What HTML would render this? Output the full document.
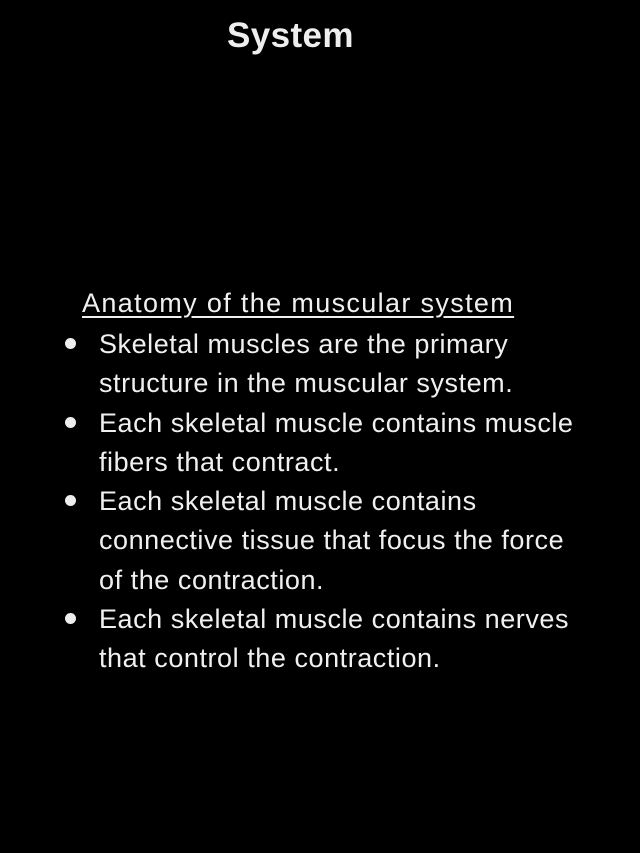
<!DOCTYPE html>
<html><head><style>
html,body{margin:0;padding:0;background:#000;width:640px;height:853px;overflow:hidden;font-family:"Liberation Sans",sans-serif;color:#f0f0f0}
.t{position:absolute;left:227px;top:16px;font-size:35px;font-weight:bold;color:#eee;letter-spacing:0.4px}
.h{position:absolute;left:82px;top:288px;font-size:27px;letter-spacing:1.35px;text-decoration:underline;text-underline-offset:4px;white-space:nowrap}
.l{position:absolute;left:99px;font-size:27px;letter-spacing:0.55px;line-height:39.3px;top:325px;width:540px;white-space:nowrap}
.d{position:absolute;left:65px;width:11px;height:11px;border-radius:50%;background:#eee}
</style></head><body>
<div class="t">System</div>
<div class="h">Anatomy of the muscular system</div>
<div class="d" style="top:338px"></div>
<div class="d" style="top:417px"></div>
<div class="d" style="top:495px"></div>
<div class="d" style="top:613px"></div>
<div class="l">Skeletal muscles are the primary<br>structure in the muscular system.<br>Each skeletal muscle contains muscle<br>fibers that contract.<br>Each skeletal muscle contains<br>connective tissue that focus the force<br>of the contraction.<br>Each skeletal muscle contains nerves<br>that control the contraction.</div>
</body></html>
